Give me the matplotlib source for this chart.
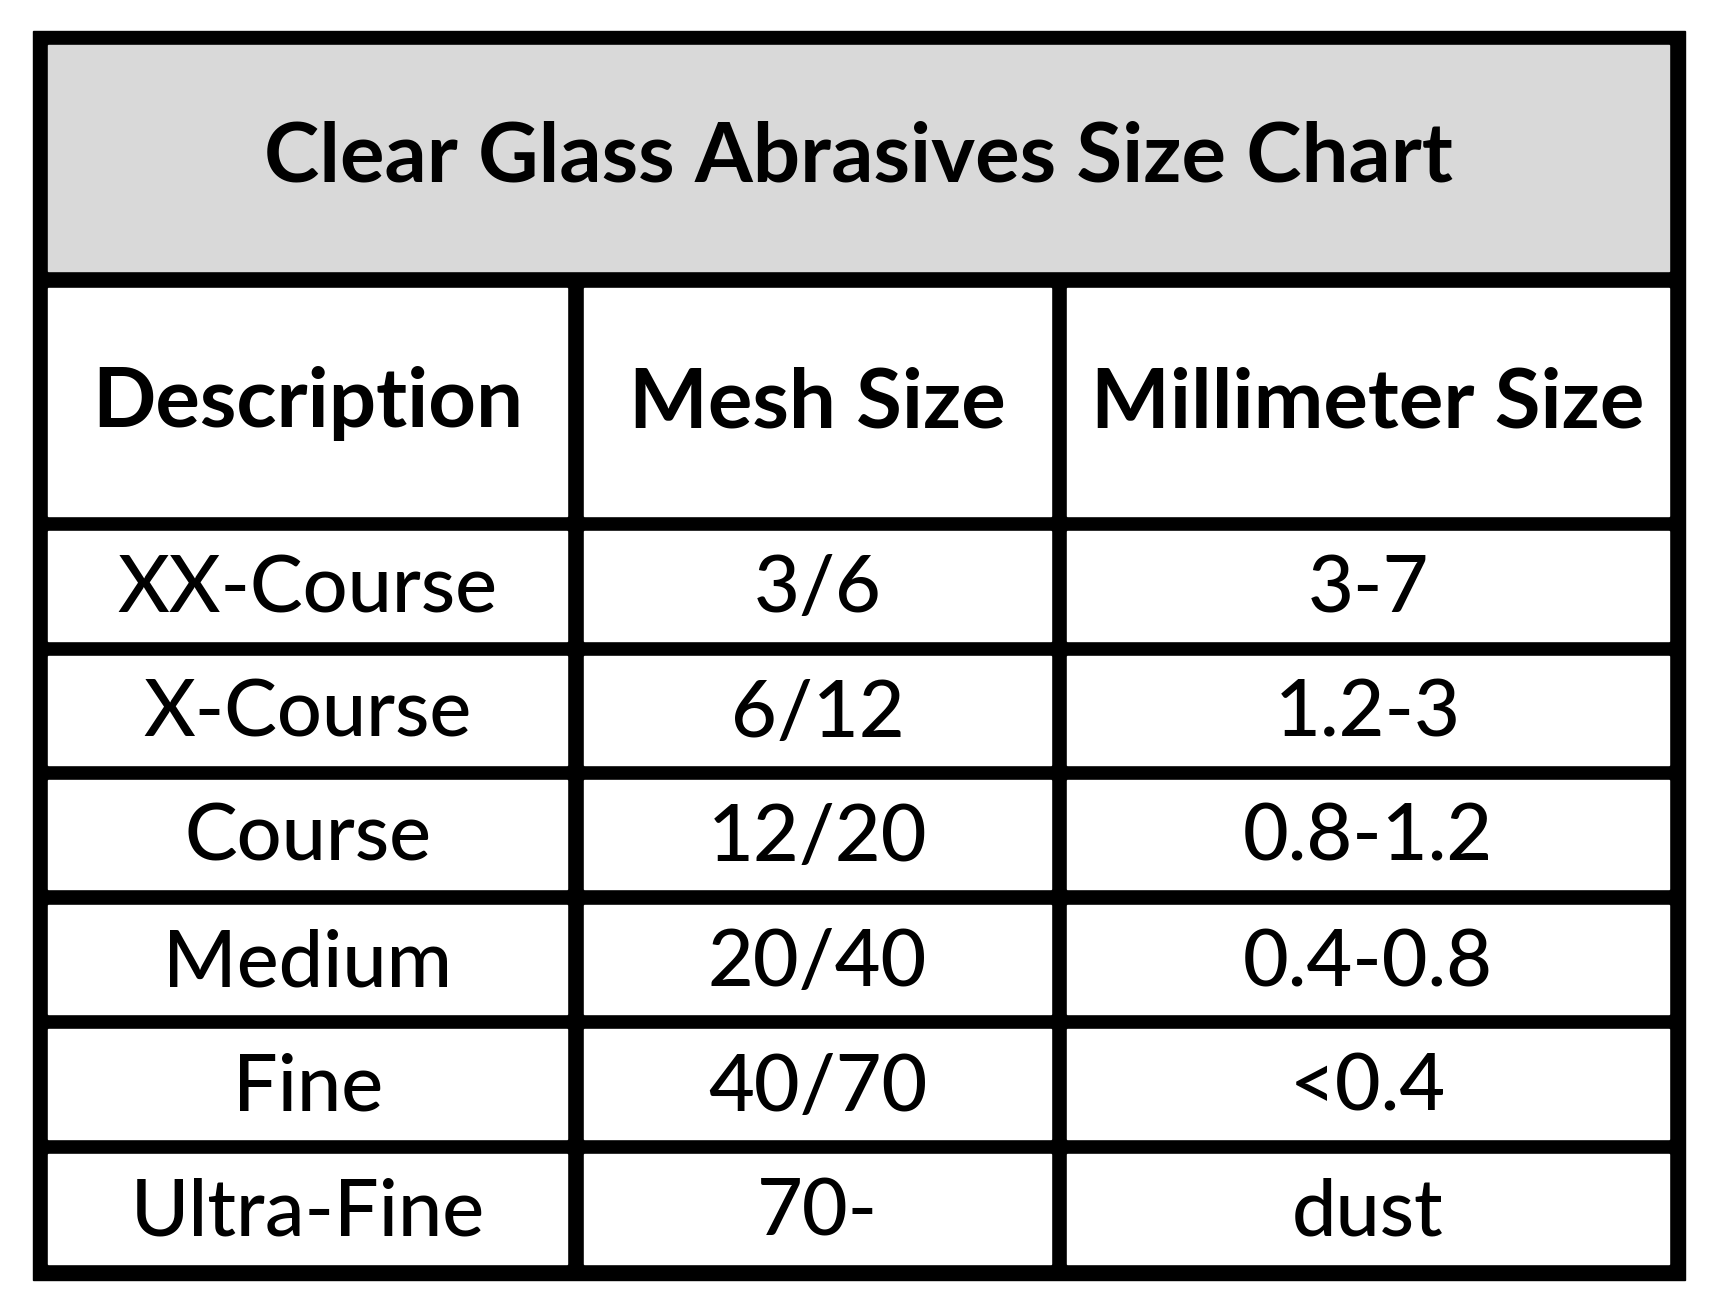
import matplotlib
matplotlib.use("Agg")
import matplotlib.pyplot as plt
from matplotlib.patches import Rectangle

title = "Clear Glass Abrasives Size Chart"
headers = ["Description", "Mesh Size", "Millimeter Size"]
descriptions = ["XX-Course", "X-Course", "Course", "Medium", "Fine", "Ultra-Fine"]
mesh_sizes = ["3/6", "6/12", "12/20", "20/40", "40/70", "70-"]
mm_sizes = ["3-7", "1.2-3", "0.8-1.2", "0.4-0.8", "<0.4", "dust"]

W, H = 1560, 1191
fig = plt.figure(figsize=(17.12, 13.07), dpi=100)
ax = fig.add_axes([0, 0, 1, 1])
ax.set_xlim(0, W); ax.set_ylim(H, 0); ax.axis("off")

FONT = ["Lato", "DejaVu Sans"]
ax.add_patch(Rectangle((30, 28), 1505, 1138, color="black"))
ax.add_patch(Rectangle((44, 41), 1477, 206, color="#d9d9d9"))
ax.text((44 + 1521) / 2, 144, title, ha="center", va="center", fontsize=60,
        fontweight="bold", family=FONT, color="black")

cols = [(44, 517), (532, 958), (972, 1521)]
header_y = (262, 470)
row_y = [(484, 584), (598, 697), (711, 810), (825, 924), (938, 1038), (1052, 1152)]

for (x0, x1), h in zip(cols, headers):
    ax.add_patch(Rectangle((x0, header_y[0]), x1 - x0, header_y[1] - header_y[0], color="white"))
    ax.text((x0 + x1) / 2, (header_y[0] + header_y[1]) / 2 + 2, h, ha="center", va="center",
            fontsize=60, fontweight="bold", family=FONT)

for i, (y0, y1) in enumerate(row_y):
    vals = [descriptions[i], mesh_sizes[i], mm_sizes[i]]
    for (x0, x1), v in zip(cols, vals):
        ax.add_patch(Rectangle((x0, y0), x1 - x0, y1 - y0, color="white"))
        ax.text((x0 + x1) / 2, (y0 + y1) / 2 + 4, v, ha="center", va="center",
                fontsize=57, family=FONT, fontweight="medium")

fig.savefig("out.png", dpi=100, facecolor="white")
